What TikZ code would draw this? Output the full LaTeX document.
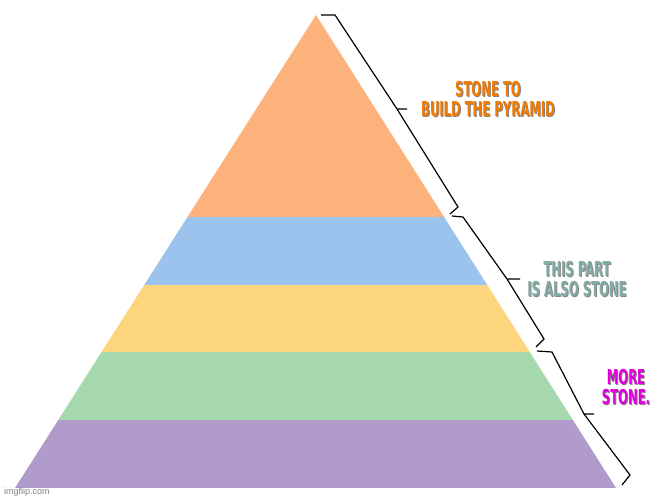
\documentclass[tikz,border=0pt]{standalone}
\usepackage{fontspec}
\newfontfamily\memefont{DejaVu Sans Condensed}[FakeStretch=0.63]
\newfontfamily\wmfont{Liberation Sans}
\definecolor{lorange}{HTML}{FDB27B}
\definecolor{lblue}{HTML}{9CC3EE}
\definecolor{lyellow}{HTML}{FED57F}
\definecolor{lgreen}{HTML}{A6D8AE}
\definecolor{lpurple}{HTML}{B09BCB}
\definecolor{torange}{HTML}{F27A00}
\definecolor{tteal}{HTML}{82ABA3}
\definecolor{tmag}{HTML}{E000DC}
\tikzset{
  bracket/.style={draw=black, line width=1.2pt, line join=miter},
  meme/.style={font=\memefont\bfseries\fontsize{20.5}{20}\selectfont, align=center, inner sep=0pt}
}
\newcommand{\memetext}[4]{%
  \node[meme, text=black!85, opacity=0.55] at (#1+1,#2+1) {#4};
  \node[meme, text=#3] (#1t#2) at (#1,#2) {#4};}
\begin{document}
\begin{tikzpicture}[x=1pt,y=-1pt]
\useasboundingbox (0,0) rectangle (671,500);
\fill[white] (0,0) rectangle (671,500);
\begin{scope}
\clip (316,15) -- (616,488) -- (15,488) -- cycle;
\fill[lorange] (0,0) rectangle (671,217);
\fill[lblue] (0,217) rectangle (671,285);
\fill[lyellow] (0,285) rectangle (671,352);
\fill[lgreen] (0,352) rectangle (671,420);
\fill[lpurple] (0,420) rectangle (671,488);
\end{scope}
\draw[bracket] (321,15) -- (335,15) -- (397,109) -- (407,109) (397,109) -- (458,207) -- (450,214);
\draw[bracket] (452,216) -- (463,217) -- (507,279) -- (520,279) (507,279) -- (544,339) -- (536,347);
\draw[bracket] (537,351) -- (552,352) -- (584,414) -- (594,414) (584,414) -- (630,475) -- (622,485);
\memetext{488}{99}{torange}{STONE TO\\BUILD THE PYRAMID}
\memetext{577}{279}{tteal}{THIS PART\\IS ALSO STONE}
\memetext{626}{387}{tmag}{MORE\\STONE.}
\node[font=\wmfont\fontsize{9}{10}\selectfont, text=gray, anchor=south west, inner sep=0pt] (wm) at (4,497) {imgflip.com};
\end{tikzpicture}
\end{document}
